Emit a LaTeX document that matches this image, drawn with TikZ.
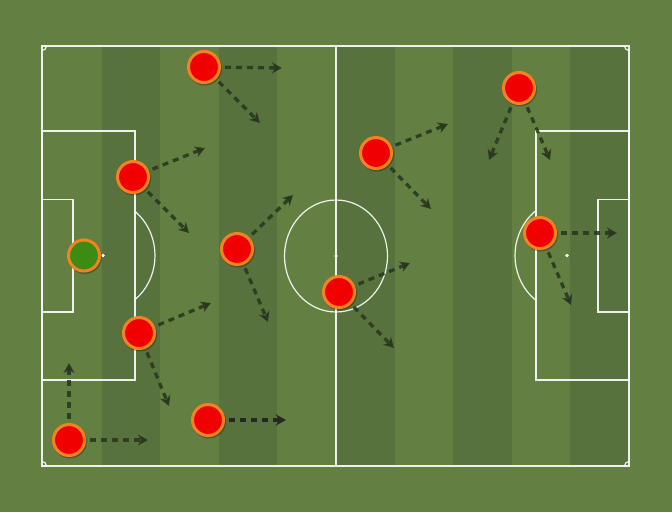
\documentclass[tikz,border=0pt]{standalone}
\usetikzlibrary{arrows.meta}
\definecolor{bggreen}{RGB}{99,128,66}
\definecolor{stripe}{RGB}{88,114,61}
\definecolor{arrowc}{RGB}{40,52,30}
\definecolor{pred}{RGB}{240,0,0}
\definecolor{pring}{RGB}{245,130,32}
\definecolor{pgreen}{RGB}{60,140,20}
\tikzset{
  fieldline/.style={draw=white, opacity=0.9, line width=1.2pt},
  player/.style={circle, minimum size=31pt, inner sep=0pt, fill=pred, draw=pring, line width=3pt},
  keeper/.style={player, fill=pgreen},
  run/.style={draw=arrowc, opacity=0.85, line width=3.3pt, dash pattern=on 6pt off 5pt, shorten <=4pt,
    -{Stealth[length=10pt,width=11pt,inset=3pt]}},
  shade/.style={fill=black, opacity=0.25}
}
\begin{document}
\begin{tikzpicture}[x=1pt,y=-1pt]
\useasboundingbox (0,0) rectangle (672,512);
\fill[bggreen] (0,0) rectangle (672,512);
% stripes
\foreach \s in {101.6,218.8,336,453.2,570.4}
  \fill[stripe] (\s,46) rectangle ({\s+58.6},466);
% field lines
\draw[fieldline] (42,46) rectangle (629,466);
\draw[fieldline] (336,46) -- (336,466);
\draw[fieldline] (336,256) ellipse [x radius=51.5, y radius=56];
\fill[white] (336,256) circle (1.8);
% left
\draw[fieldline] (42,131) rectangle (135,380);
\draw[fieldline] (42,199.5) rectangle (73,312);
\fill[white] (103,255.5) circle (1.8);
\begin{scope}
  \clip (135,0) rectangle (300,512);
  \draw[fieldline] (103,255.5) ellipse [x radius=52, y radius=56];
\end{scope}
% right
\draw[fieldline] (536,131) rectangle (629,380);
\draw[fieldline] (598,199.5) rectangle (629,312);
\fill[white] (567,255.5) circle (1.8);
\begin{scope}
  \clip (380,0) rectangle (536,512);
  \draw[fieldline] (567,255.5) ellipse [x radius=52, y radius=56];
\end{scope}
% corner arcs
\begin{scope}
  \clip (42,46) rectangle (629,466);
  \draw[fieldline] (42,46) circle (4.5);
  \draw[fieldline] (629,46) circle (4.5);
  \draw[fieldline] (42,466) circle (4.5);
  \draw[fieldline] (629,466) circle (4.5);
\end{scope}
% shadows
\foreach \x/\y in {204/67,133/177,84/255.5,237/249,139/333,69/440,208/420,376/153,339/292,519/88,540/233}
  \fill[shade] (\x+1,\y+1.5) circle (17);
% players
\node[player] (p1) at (204,67) {};
\node[player] (p2) at (133,177) {};
\node[keeper] (gk) at (84,255.5) {};
\node[player] (p3) at (237,249) {};
\node[player] (p4) at (139,333) {};
\node[player] (p5) at (69,440) {};
\node[player] (p6) at (208,420) {};
\node[player] (p7) at (376,153) {};
\node[player] (p8) at (339,292) {};
\node[player] (p9) at (519,88) {};
\node[player] (p10) at (540,233) {};
% targets
\coordinate (a1) at (282,68);
\coordinate (b1) at (260,123);
\coordinate (a2) at (205,148);
\coordinate (b2) at (189,233);
\coordinate (a3) at (293,195);
\coordinate (b3) at (268,322);
\coordinate (a4) at (211,303);
\coordinate (b4) at (169,406);
\coordinate (a5) at (69,363);
\coordinate (b5) at (148,440);
\coordinate (a6) at (286,420);
\coordinate (a7) at (448,124);
\coordinate (b7) at (431,209);
\coordinate (a8) at (410,263);
\coordinate (b8) at (394,348);
\coordinate (a9) at (489,160);
\coordinate (b9) at (550,160);
\coordinate (a10) at (617,233);
\coordinate (b10) at (571,305);
% runs
\draw[run] (p1) -- (a1);
\draw[run] (p1) -- (b1);
\draw[run] (p2) -- (a2);
\draw[run] (p2) -- (b2);
\draw[run] (p3) -- (a3);
\draw[run] (p3) -- (b3);
\draw[run] (p4) -- (a4);
\draw[run] (p4) -- (b4);
\draw[run] (p5) -- (a5);
\draw[run] (p5) -- (b5);
\draw[run, opacity=1, draw=black!85] (p6) -- (a6);
\draw[run] (p7) -- (a7);
\draw[run] (p7) -- (b7);
\draw[run] (p8) -- (a8);
\draw[run] (p8) -- (b8);
\draw[run] (p9) -- (a9);
\draw[run] (p9) -- (b9);
\draw[run] (p10) -- (a10);
\draw[run] (p10) -- (b10);
\end{tikzpicture}
\end{document}
